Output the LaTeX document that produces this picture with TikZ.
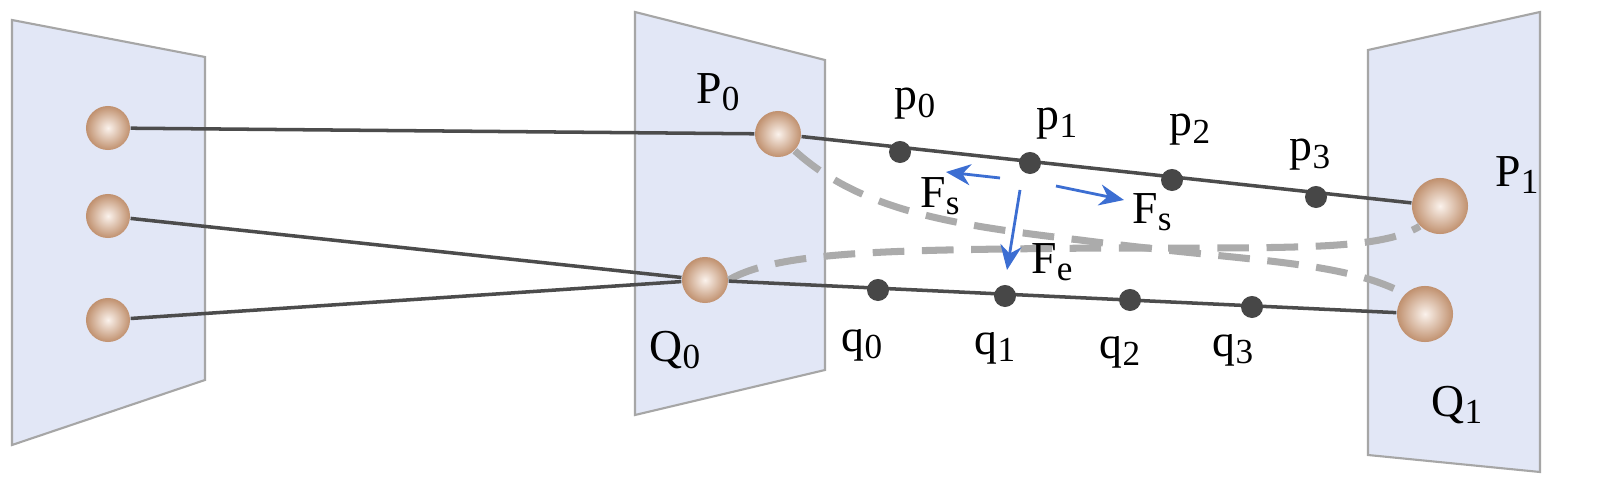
\documentclass[tikz,border=0pt]{standalone}
\usepackage{fontspec}
\setmainfont{Liberation Serif}
\newfontfamily\lib{Liberation Serif}
\usetikzlibrary{arrows.meta}
\definecolor{panel}{RGB}{226,231,246}
\definecolor{ball}{RGB}{226,170,130}
\definecolor{fblue}{RGB}{60,110,210}
\newcommand{\sbs}[1]{\raisebox{-0.35ex}{\fontsize{10pt}{11pt}\selectfont #1}}
\begin{document}
\begin{tikzpicture}[x=0.01cm,y=-0.01cm,
  pane/.style={fill=panel,draw=gray!70,line width=0.6pt},
  sphere/.style={circle,inner sep=0pt,inner color=white!85!ball,outer color=ball!85!black},
  dot/.style={circle,fill=black!72,inner sep=0pt,minimum size=0.22cm},
  link/.style={draw=black!70,line width=1pt},
  dsh/.style={draw=black!33,line width=2pt,dash pattern=on 9pt off 5pt},
  force/.style={draw=fblue,line width=0.8pt,-{Stealth[length=7pt,width=6pt]}},
  lbl/.style={font=\lib\fontsize{13pt}{15pt}\selectfont,inner sep=0pt}]
\fill[white] (0,0) rectangle (1611,482);
\useasboundingbox (0,0) rectangle (1611,482);
\draw[pane] (12,20) -- (205,57) -- (205,380) -- (12,445) -- cycle;
\draw[pane] (635,12) -- (825,60) -- (825,370) -- (635,415) -- cycle;
\draw[pane] (1368,50) -- (1540,12) -- (1540,472) -- (1368,455) -- cycle;
\node[sphere,minimum size=0.44cm] (L1) at (108,128) {};
\node[sphere,minimum size=0.44cm] (L2) at (108,216) {};
\node[sphere,minimum size=0.44cm] (L3) at (108,320) {};
\node[sphere,minimum size=0.46cm] (P0) at (778,134) {};
\node[sphere,minimum size=0.46cm] (Q0) at (705,280) {};
\node[sphere,minimum size=0.56cm] (P1) at (1440,206) {};
\node[sphere,minimum size=0.56cm] (Q1) at (1425,314) {};
\draw[dsh] (P0.south east) .. controls (860,210) and (950,225) .. (1080,240) .. controls (1250,262) and (1340,260) .. (Q1.north west);
\draw[dsh] (Q0.east) .. controls (780,250) and (900,250) .. (1100,248) .. controls (1300,248) and (1380,250) .. (P1.south west);
\draw[link] (L1) -- (P0);
\draw[link] (L2) -- (Q0);
\draw[link] (L3) -- (Q0);
\draw[link] (P0) -- (P1);
\draw[link] (Q0) -- (Q1);
\foreach \n/\x/\y in {p0/900/152,p1/1030/163,p2/1172/180,p3/1316/197,q0/878/290,q1/1005/296,q2/1130/300,q3/1252/307}
  \node[dot] (\n) at (\x,\y) {};
\coordinate (c1) at (1000,178);
\coordinate (c2) at (1056,186);
\coordinate (c3) at (1020,190);
\coordinate (e1) at (946,172);
\coordinate (e2) at (1124,200);
\coordinate (e3) at (1007,270);
\draw[force] (c1) -- (e1);
\draw[force] (c2) -- (e2);
\draw[force] (c3) -- (e3);
\node[lbl] (tP0) at (718,92) {P\sbs{0}};
\node[lbl] (tp0) at (915,104) {p\sbs{0}};
\node[lbl] (tp1) at (1057,124) {p\sbs{1}};
\node[lbl] (tp2) at (1190,130) {p\sbs{2}};
\node[lbl] (tp3) at (1310,155) {p\sbs{3}};
\node[lbl] (tP1) at (1517,175) {P\sbs{1}};
\node[lbl] (tQ0) at (675,350) {Q\sbs{0}};
\node[lbl] (tq0) at (862,345) {q\sbs{0}};
\node[lbl] (tq1) at (995,348) {q\sbs{1}};
\node[lbl] (tq2) at (1120,352) {q\sbs{2}};
\node[lbl] (tq3) at (1233,350) {q\sbs{3}};
\node[lbl] (tQ1) at (1457,405) {Q\sbs{1}};
\node[lbl] (tF1) at (940,196) {F\sbs{s}};
\node[lbl] (tF2) at (1152,212) {F\sbs{s}};
\node[lbl] (tF3) at (1052,262) {F\sbs{e}};
\end{tikzpicture}
\end{document}
